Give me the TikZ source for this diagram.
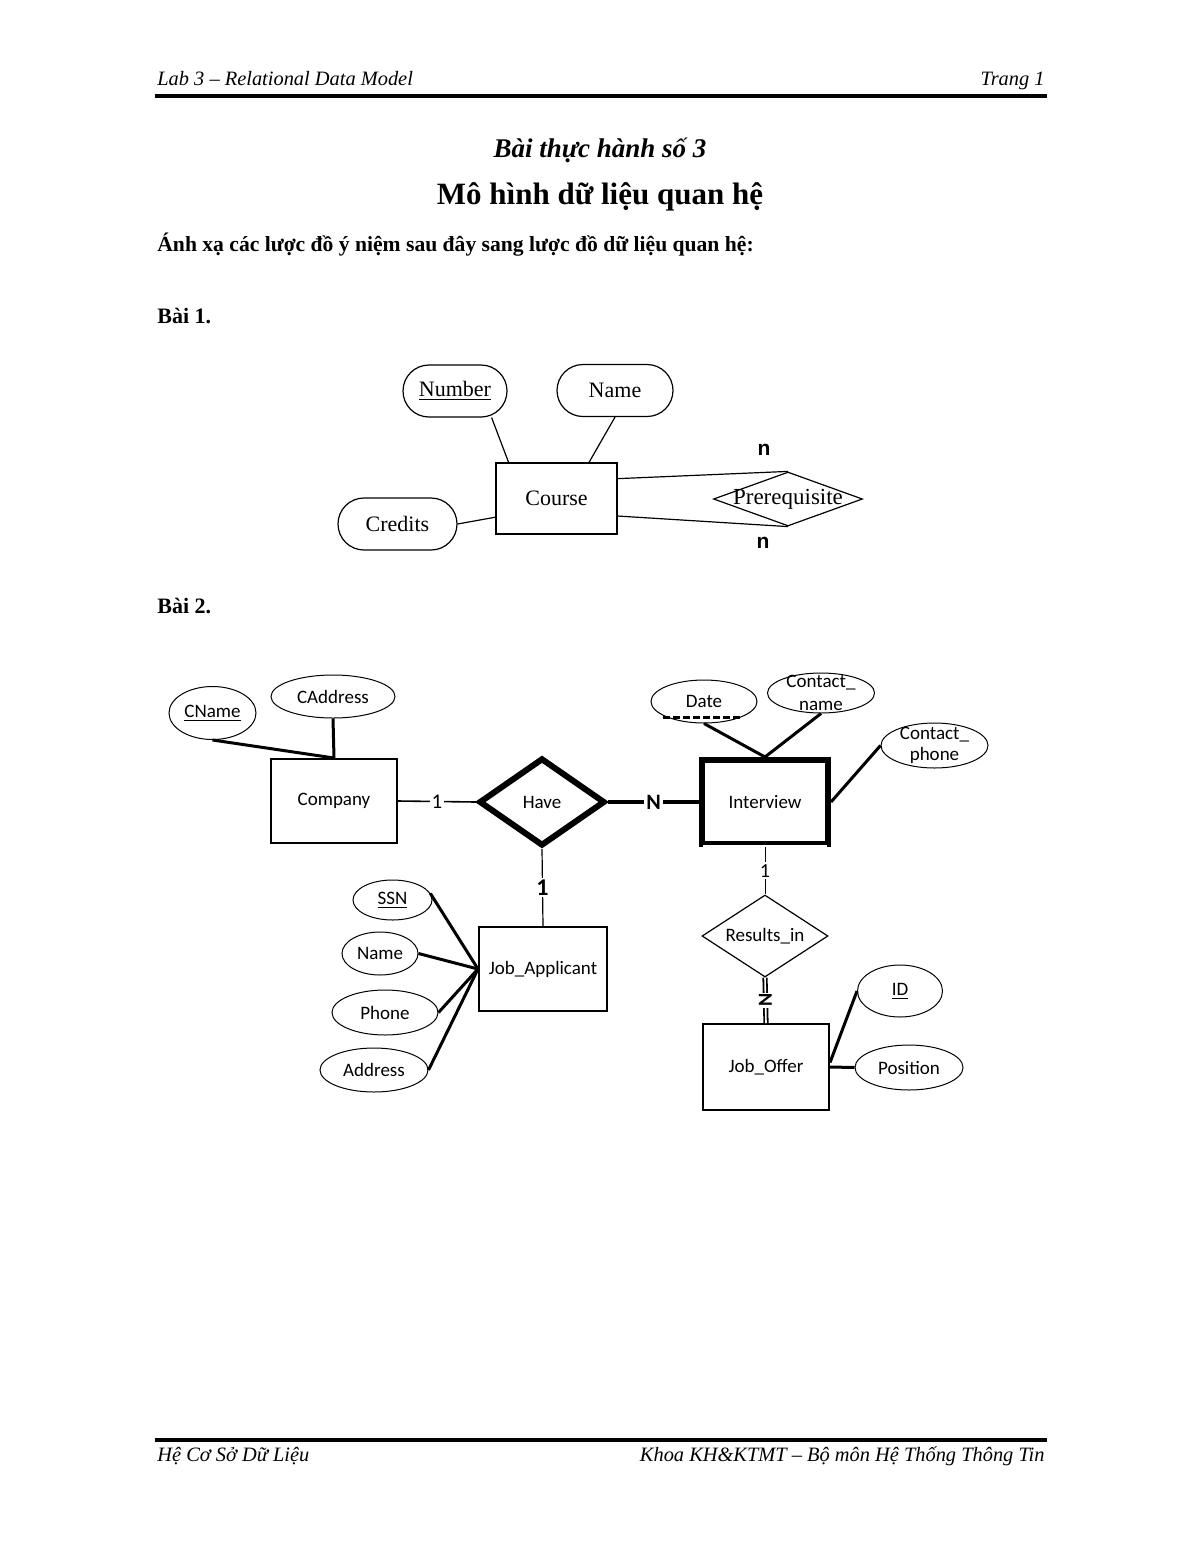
\documentclass[tikz,border=0pt]{standalone}
\usepackage{fontspec}
\setmainfont{Liberation Serif}
\newfontfamily\calibri{Carlito}
\newfontfamily\arialf{Liberation Sans}
\usetikzlibrary{shapes.geometric}

\tikzset{
  entA/.style={draw, line width=0.6pt, font=\fontsize{11}{13}\selectfont},
  attrA/.style={draw, line width=0.6pt, rounded corners=13pt, minimum height=26pt, font=\fontsize{11}{13}\selectfont},
  relA/.style={draw, diamond, line width=0.6pt, inner sep=0pt},
  entB/.style={draw, line width=1pt, minimum width=63pt, minimum height=42pt, font=\calibri\fontsize{9.5}{11}\selectfont},
  attrB/.style={draw, ellipse, line width=0.5pt, inner sep=0pt, font=\calibri\fontsize{9.5}{11}\selectfont},
  relB/.style={draw, diamond, aspect=1.5, inner sep=0pt, font=\calibri\fontsize{9.5}{11}\selectfont},
  linkB/.style={line width=1.5pt},
  card/.style={fill=white, inner sep=1pt, font=\calibri\fontsize{10.5}{12}\selectfont},
  trang/.style={inner sep=0pt, font=\itshape\fontsize{10.2}{12}\selectfont}
}

\begin{document}
\begin{tikzpicture}[x=0.5pt, y=-0.5pt]
    \useasboundingbox (0,0) rectangle (1200,1553);
    \fill[white] (0,0) rectangle (1200,1553);

    % Đầu trang
    \node[trang, anchor=base west] (hdl) at (157,85) {Lab 3 – Relational Data Model};
    \node[trang, anchor=base east] (hdr) at (1045,85) {Trang 1};
    \draw[line width=2pt] (155,96) -- (1047,96);

    % Tiêu đề
    \node[font=\bfseries\itshape\fontsize{13.5}{16}\selectfont] (baith) at (600,150) {Bài thực hành số 3};
    \node[font=\bfseries\fontsize{15.5}{18}\selectfont] (tieude) at (600,197) {Mô hình dữ liệu quan hệ};
    \node[anchor=west, inner sep=0pt, font=\bfseries\fontsize{10.8}{13}\selectfont] (yeucau) at (157,245) {Ánh xạ các lược đồ ý niệm sau đây sang lược đồ dữ liệu quan hệ:};
    \node[anchor=west, inner sep=0pt, font=\bfseries\fontsize{11}{13}\selectfont] (bai1) at (157,316) {Bài 1.};
    \node[anchor=west, inner sep=0pt, font=\bfseries\fontsize{11}{13}\selectfont] (bai2) at (157,606) {Bài 2.};

    % Bài 1
    \node[entA, minimum width=60.5pt, minimum height=35.5pt] (course) at (556.5,498.5) {Course};
    \node[attrA, minimum width=52pt] (number) at (455,391) {\underline{Number}};
    \node[attrA, minimum width=58pt] (cname1) at (615,390.5) {Name};
    \node[attrA, minimum width=59.5pt] (credits) at (397.5,524) {Credits};
    \node[relA, minimum width=74.5pt, minimum height=27pt,
          label={[font=\fontsize{11.5}{13}\selectfont, inner sep=0pt]center:Prerequisite}] (prereq) at (788,499) {};

    \draw[line width=0.6pt] (number.-36) -- (course.143);
    \draw[line width=0.6pt] (cname1.south) -- (course.48);
    \draw[line width=0.6pt] (credits.east) -- (course.197);
    \draw[line width=0.6pt] (course.18) -- (prereq.north);
    \draw[line width=0.6pt] (course.-16) -- (prereq.south);
    \node[font=\arialf\bfseries\fontsize{10.5}{12}\selectfont] (n1) at (764,450) {n};
    \node[font=\arialf\bfseries\fontsize{10.5}{12}\selectfont] (n2) at (763,543) {n};

    % Bài 2: thực thể và mối quan hệ
    \node[entB] (company) at (334,801) {Company};
    \node[relB, line width=3pt, minimum width=63pt, minimum height=44pt] (have) at (542,802) {Have};
    \node[entB, line width=3pt] (interview) at (765,802) {Interview};
    \node[entB, minimum width=64pt] (applicant) at (543,969) {Job\_Applicant};
    \node[relB, line width=0.6pt, minimum width=63pt, minimum height=41pt] (results) at (765,936) {Results\_in};
    \node[entB, minimum height=43pt] (joboffer) at (766,1067) {Job\_Offer};
    \draw[white, line width=1pt] ([xshift=2pt, yshift=0.3pt]interview.south west) -- ([xshift=-2pt, yshift=0.3pt]interview.south east);

    % Thuộc tính
    \node[attrB, minimum width=43.5pt, minimum height=26.5pt] (cnameB) at (212.5,713) {\underline{CName}};
    \node[attrB, minimum width=62pt, minimum height=21.5pt] (caddress) at (333,696.5) {CAddress};
    \node[attrB, minimum width=53pt, minimum height=21.5pt] (date) at (704,701.5) {Date};
    \node[attrB, minimum width=53.5pt, minimum height=20pt,
          label={[align=center, inner sep=0pt, font=\calibri\fontsize{9.5}{11.5}\selectfont]center:Contact\_\\name}] (contname) at (821,693) {};
    \node[attrB, minimum width=53.5pt, minimum height=22.5pt,
          label={[align=center, inner sep=0pt, font=\calibri\fontsize{9.5}{10.5}\selectfont]center:Contact\_\\phone}] (contphone) at (934.5,745.5) {};
    \node[attrB, minimum width=39.5pt, minimum height=20pt] (ssn) at (392.5,900) {\underline{SSN}};
    \node[attrB, minimum width=38pt, minimum height=21.5pt] (aname) at (380,953.5) {Name};
    \node[attrB, minimum width=53pt, minimum height=22.5pt] (phone) at (385,1012.5) {Phone};
    \node[attrB, minimum width=54pt, minimum height=22pt] (address) at (374,1070) {Address};
    \node[attrB, minimum width=42.5pt, minimum height=26pt] (id) at (900,991) {\underline{ID}};
    \node[attrB, minimum width=54pt, minimum height=22.5pt] (position) at (909,1067.5) {Position};
    \draw[line width=1.6pt, dash pattern=on 3.5pt off 1.5pt] ([xshift=-20.5pt, yshift=-8pt]date.center) -- ([xshift=18pt, yshift=-8pt]date.center);

    % Đường nối thuộc tính
    \draw[linkB] (cnameB.south) -- (company.north);
    \draw[linkB] (caddress.south) -- (company.north);
    \draw[linkB] (date.south) -- (interview.north);
    \draw[linkB] (contname.south) -- (interview.north);
    \draw[linkB] (contphone.west) -- (interview.east);
    \draw[linkB] (ssn.10) -- (applicant.west);
    \draw[linkB] (aname.east) -- (applicant.west);
    \draw[linkB] (phone.east) -- (applicant.west);
    \draw[linkB] (address.east) -- (applicant.west);
    \draw[linkB] (id.west) -- (joboffer.4);
    \draw[linkB] (position.west) -- (joboffer.east);

    % Đường nối quan hệ
    \draw[line width=0.8pt] (company.east) -- node[card] {1} (have.west);
    \draw[line width=2.2pt] (have.east) -- node[card, font=\calibri\bfseries\fontsize{11}{12}\selectfont] {N} (interview.west);
    \draw[line width=0.6pt] (have.south) -- node[card, font=\calibri\bfseries\fontsize{12}{13}\selectfont] {1} (applicant.north);
    \draw[line width=0.5pt] (interview.south) -- node[card, font=\calibri\fontsize{10}{12}\selectfont] {1} (results.north);
    \draw[line width=0.9pt, double, double distance=0.8pt] (results.south) -- node[card, rotate=90, inner sep=0.5pt, font=\calibri\bfseries\fontsize{10}{12}\selectfont] {N} (joboffer.north);

    % Chân trang
    \draw[line width=2pt] (155,1440) -- (1047,1440);
    \node[trang, anchor=base west] (ftl) at (157,1461) {Hệ Cơ Sở Dữ Liệu};
    \node[trang, anchor=base east] (ftr) at (1045,1461) {Khoa KH\&KTMT – Bộ môn Hệ Thống Thông Tin};
\end{tikzpicture}
\end{document}
